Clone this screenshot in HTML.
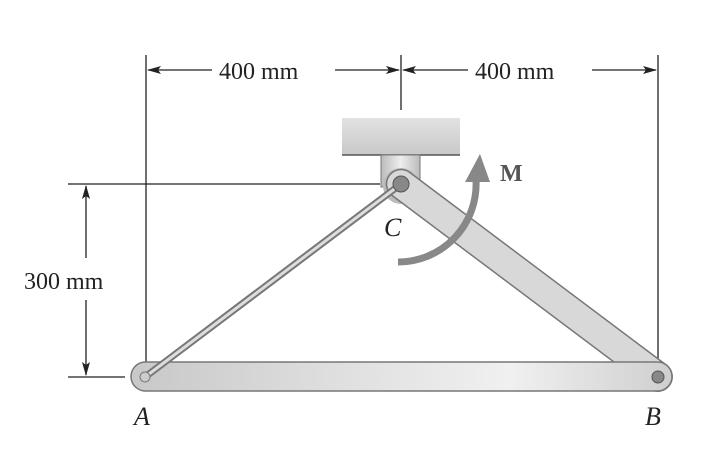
<!DOCTYPE html>
<html><head><style>
body{margin:0;background:#fff;width:709px;height:458px;overflow:hidden}
text{font-family:"Liberation Serif",serif;fill:#222}
</style></head><body>
<svg width="709" height="458" viewBox="0 0 709 458">
<defs>
<linearGradient id="bar" x1="0" y1="0" x2="1" y2="0">
<stop offset="0" stop-color="#c8c8c8"/><stop offset="0.4" stop-color="#e0e0e0"/><stop offset="0.7" stop-color="#f0f0f0"/><stop offset="1" stop-color="#cfcfcf"/></linearGradient>
<linearGradient id="blk" x1="0" y1="0" x2="0" y2="1"><stop offset="0" stop-color="#e2e2e2"/><stop offset="1" stop-color="#c8c8c8"/></linearGradient>
<linearGradient id="clv" x1="0" y1="0" x2="1" y2="0"><stop offset="0" stop-color="#bbb"/><stop offset="0.5" stop-color="#eee"/><stop offset="1" stop-color="#bbb"/></linearGradient>
<marker id="ar" markerWidth="14" markerHeight="8" refX="13" refY="4" orient="auto" markerUnits="userSpaceOnUse"><path d="M0,0 L14,4 L0,8 L3,4z" fill="#222"/></marker>
</defs>
<g stroke="#222" stroke-width="1.3" fill="none">
<line x1="146" y1="55" x2="146" y2="368"/>
<line x1="401" y1="55" x2="401" y2="110"/>
<line x1="658" y1="55" x2="658" y2="360"/>
<line x1="212" y1="70" x2="148" y2="70" marker-end="url(#ar)"/>
<line x1="335" y1="70" x2="399" y2="70" marker-end="url(#ar)"/>
<line x1="468" y1="70" x2="403" y2="70" marker-end="url(#ar)"/>
<line x1="592" y1="70" x2="656" y2="70" marker-end="url(#ar)"/>
<line x1="68" y1="184" x2="380" y2="184"/>
<line x1="68" y1="377" x2="125" y2="377"/>
<line x1="86" y1="258" x2="86" y2="186" marker-end="url(#ar)"/>
<line x1="86" y1="300" x2="86" y2="375" marker-end="url(#ar)"/>
</g>
<text x="219" y="79" font-size="24">400 mm</text>
<text x="475" y="79" font-size="24">400 mm</text>
<text x="24" y="289" font-size="24">300 mm</text>
<!-- support -->
<rect x="342" y="118" width="118" height="37" fill="url(#blk)"/>
<line x1="342" y1="155" x2="460" y2="155" stroke="#555" stroke-width="1.5"/>
<rect x="381" y="155" width="39" height="32" fill="url(#clv)" stroke="#777" stroke-width="1"/>
<circle cx="401" cy="186" r="18" fill="#bbb"/>
<!-- bar CB -->
<g transform="translate(401,184) rotate(36.9)">
<rect x="-14.5" y="-14.5" width="350" height="29" rx="14.5" fill="#d8d8d8" stroke="#777" stroke-width="1.5"/>
</g>
<!-- bar AB -->
<rect x="131" y="362" width="541" height="29" rx="14.5" fill="url(#bar)" stroke="#777" stroke-width="1.5"/>
<!-- rod AC -->
<line x1="145" y1="377" x2="401" y2="184" stroke="#777" stroke-width="7" stroke-linecap="round"/>
<line x1="145" y1="377" x2="401" y2="184" stroke="#ddd" stroke-width="3" stroke-linecap="round"/>
<circle cx="145" cy="377" r="5" fill="#ccc" stroke="#777"/>
<circle cx="401" cy="184" r="8" fill="#888" stroke="#555"/>
<circle cx="658" cy="377" r="6" fill="#888" stroke="#555"/>
<!-- moment -->
<path d="M398,262 A78,78 0 0 0 476,180" fill="none" stroke="#888" stroke-width="7"/>
<path d="M465,182 L480,154 L490,182z" fill="#888"/>
<text x="500" y="181" font-size="24" font-weight="bold" style="fill:#555">M</text>
<text x="384" y="236" font-size="26" font-style="italic">C</text>
<text x="134" y="425" font-size="26" font-style="italic">A</text>
<text x="645" y="425" font-size="26" font-style="italic">B</text>
</svg>
</body></html>
